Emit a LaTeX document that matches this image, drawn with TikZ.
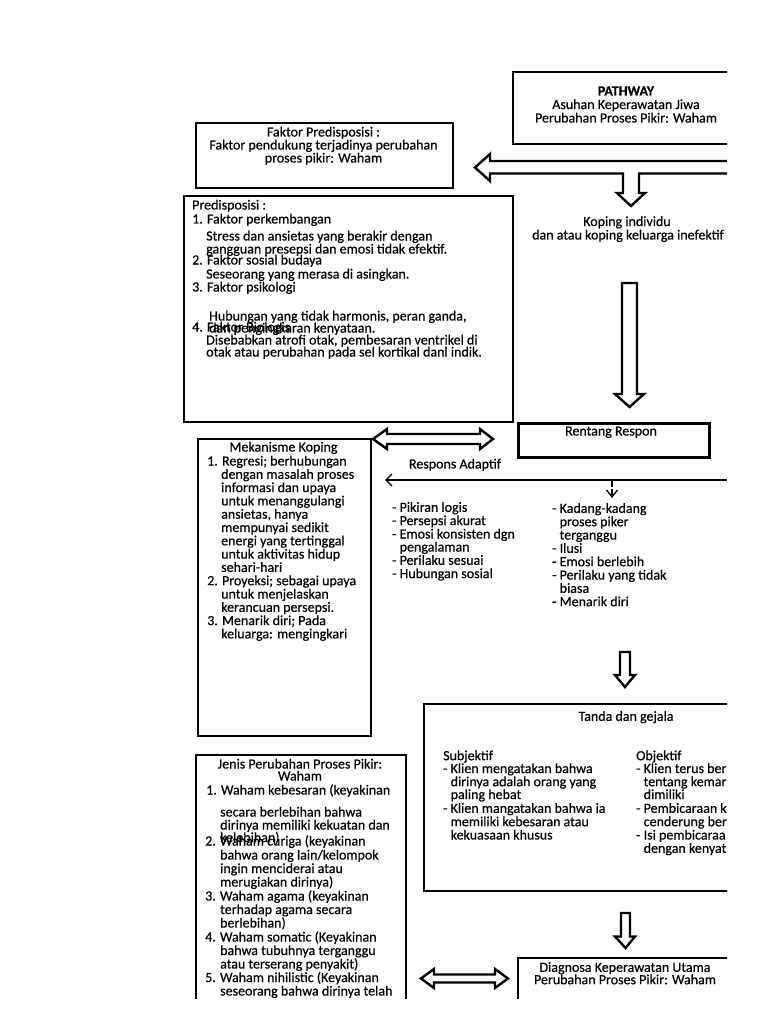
\documentclass[tikz,border=0pt]{standalone}
\usepackage{fontspec}
\setmainfont{Carlito}[RawFeature={embolden=0.5}]
\usetikzlibrary{arrows.meta}
\begin{document}
\begin{tikzpicture}[x=1pt,y=-1pt,
  txt/.style={anchor=west,inner sep=0pt,font=\fontsize{14}{16}\selectfont,text height=10pt,text depth=3pt},
  ctr/.style={anchor=center,inner sep=0pt,font=\fontsize{14}{16}\selectfont,text height=10pt,text depth=3pt},
  box/.style={draw,line width=2.2pt,anchor=north west,inner sep=0pt},
  thinbox/.style={draw,line width=1.6pt,anchor=north west,inner sep=0pt},
  blk/.style={draw,line width=2.4pt,fill=white,line join=miter},
]
\fill[white] (0,0) rectangle (768,1024);
\useasboundingbox (0,0) rectangle (768,1024);
\begin{scope}
\clip (0,0) rectangle (727,998);

% ---------- boxes ----------
\node[box,minimum width=280pt,minimum height=72pt] (pathway) at (512,71) {};
\node[box,minimum width=257pt,minimum height=65pt] (faktor) at (195,122) {};
\node[box,minimum width=329pt,minimum height=226pt] (predis) at (183,195) {};
\node[box,minimum width=173pt,minimum height=297pt] (mekan) at (197,438) {};
\node[box,line width=2.6pt,minimum width=191pt,minimum height=34pt] (rentang) at (517,422) {};
\node[thinbox,minimum width=380pt,minimum height=187pt] (tanda) at (423,703) {};
\node[box,minimum width=210pt,minimum height=260pt] (jenis) at (195,754) {};
\node[thinbox,minimum width=300pt,minimum height=100pt] (diag) at (517,957) {};

% ---------- block arrows ----------
\draw[blk] (740,161) -- (490,161) -- (490,154) -- (475,167.5) -- (490,181) -- (490,173.5)
  -- (623,173.5) -- (623,193) -- (617,193) -- (631,206) -- (645,193) -- (639,193) -- (639,173.5)
  -- (740,173.5) -- cycle;
\draw[blk] (622,283) -- (637,283) -- (637,394) -- (644,394) -- (629.5,407) -- (615,394) -- (622,394) -- cycle;
\draw[blk] (620,652) -- (630,652) -- (630,675) -- (635,675) -- (625,687) -- (615,675) -- (620,675) -- cycle;
\draw[blk] (621,913) -- (630,913) -- (630,936.5) -- (635,936.5) -- (625.5,948) -- (615,936.5) -- (621,936.5) -- cycle;
% double arrows
\draw[blk] (373,439) -- (387,429) -- (387,434) -- (480,434) -- (480,429) -- (493,439) -- (480,449) -- (480,444) -- (387,444) -- (387,449) -- cycle;
\draw[blk] (421,978.5) -- (434,969) -- (434,974.5) -- (495,974.5) -- (495,969) -- (508,978.5) -- (495,988) -- (495,982.5) -- (434,982.5) -- (434,988) -- cycle;

% thin arrows
\coordinate (rs) at (727,480);
\coordinate (re) at (385,480);
\draw[line width=1.4pt,-{Straight Barb[length=6pt,width=12pt,line width=1.4pt]}] (rs) -- (re);
\coordinate (ds) at (612,481);
\coordinate (de) at (612,498);
\draw[line width=1.3pt,dash pattern=on 6pt off 2pt,-{Straight Barb[length=7pt,width=11pt,line width=1.3pt]}] (ds) -- (de);

% ---------- texts ----------
\node[ctr,font=\fontsize{14}{16}\selectfont\bfseries] (p1) at (626,92) {PATHWAY};
\node[ctr] (p2) at (626,105.5) {Asuhan Keperawatan Jiwa};
\node[ctr] (p3) at (626,119) {Perubahan Proses Pikir: Waham};

\node[ctr] (f1) at (323.5,133) {Faktor Predisposisi :};
\node[ctr] (f2) at (323.5,146) {Faktor pendukung terjadinya perubahan};
\node[ctr] (f3) at (323.5,159) {proses pikir: Waham};

\node[ctr] (k1) at (627,222.5) {Koping individu};
\node[ctr] (k2) at (628,236) {dan atau koping keluarga inefektif};

\node[txt] (d1) at (192,206) {Predisposisi :};
\node[txt] (d2) at (192,220) {1. Faktor perkembangan};
\node[txt] (d3) at (206,237) {Stress dan ansietas yang berakir dengan};
\node[txt] (d4) at (206,250) {gangguan presepsi dan emosi tidak efektif.};
\node[txt] (d5) at (192,261) {2. Faktor sosial budaya};
\node[txt] (d6) at (206,275) {Seseorang yang merasa di asingkan.};
\node[txt] (d7) at (192,288) {3. Faktor psikologi};
\node[txt] (d8) at (209,317) {Hubungan yang tidak harmonis, peran ganda,};
\node[txt] (d9) at (209,329) {dan pengingkaran kenyataan.};
\node[txt] (d10) at (192,328) {4. Faktor Biologis};
\node[txt] (d11) at (206,341) {Disebabkan atrofi otak, pembesaran ventrikel di};
\node[txt] (d12) at (206,353) {otak atau perubahan pada sel kortikal danl indik.};

\node[ctr] (m0) at (283.5,448) {Mekanisme Koping};
\node[txt] (m1) at (207,462) {1. Regresi; berhubungan};
\node[txt] (m2) at (221,475.3) {dengan masalah proses};
\node[txt] (m3) at (221,488.6) {informasi dan upaya};
\node[txt] (m4) at (221,501.9) {untuk menanggulangi};
\node[txt] (m5) at (221,515.2) {ansietas, hanya};
\node[txt] (m6) at (221,528.5) {mempunyai sedikit};
\node[txt] (m7) at (221,541.8) {energi yang tertinggal};
\node[txt] (m8) at (221,555.1) {untuk aktivitas hidup};
\node[txt] (m9) at (221,568.4) {sehari-hari};
\node[txt] (m10) at (207,581.7) {2. Proyeksi; sebagai upaya};
\node[txt] (m11) at (221,595) {untuk menjelaskan};
\node[txt] (m12) at (221,608.3) {kerancuan persepsi.};
\node[txt] (m13) at (207,621.6) {3. Menarik diri; Pada};
\node[txt] (m14) at (221,634.9) {keluarga: mengingkari};

\node[ctr] (r0) at (611,432) {Rentang Respon};
\node[ctr] (a0) at (455,465) {Respons Adaptif};

\node[txt] (l1) at (392,508.3) {- Pikiran logis};
\node[txt] (l2) at (392,521.6) {- Persepsi akurat};
\node[txt] (l3) at (392,535) {- Emosi konsisten dgn};
\node[txt] (l4) at (399.5,548) {pengalaman};
\node[txt] (l5) at (392,561.3) {- Perilaku sesuai};
\node[txt] (l6) at (392,574.6) {- Hubungan sosial};

\node[txt] (q1) at (552,509.3) {- Kadang-kadang};
\node[txt] (q2) at (559.5,522.7) {proses piker};
\node[txt] (q3) at (559.5,536) {terganggu};
\node[txt] (q4) at (552,549.3) {- Ilusi};
\node[txt] (q5) at (552,562.7) {- Emosi berlebih};
\node[txt] (q6) at (552,576) {- Perilaku yang tidak};
\node[txt] (q7) at (559.5,589.3) {biasa};
\node[txt] (q8) at (552,602.7) {- Menarik diri};

\node[ctr] (g0) at (626,717.3) {Tanda dan gejala};
\node[txt] (s0) at (443,756.7) {Subjektif};
\node[txt] (s1) at (443,769.5) {- Klien mengatakan bahwa};
\node[txt] (s2) at (450.5,782.7) {dirinya adalah orang yang};
\node[txt] (s3) at (450.5,795.5) {paling hebat};
\node[txt] (s4) at (443,809.3) {- Klien mangatakan bahwa ia};
\node[txt] (s5) at (450.5,822.7) {memiliki kebesaran atau};
\node[txt] (s6) at (450.5,836) {kekuasaan khusus};
\node[txt] (o0) at (636,756.7) {Objektif};
\node[txt] (o1) at (636,769.5) {- Klien terus ber};
\node[txt] (o2) at (643.5,782.7) {tentang kemar};
\node[txt] (o3) at (643.5,795.5) {dimiliki};
\node[txt] (o4) at (636,809.3) {- Pembicaraan k};
\node[txt] (o5) at (643.5,822.7) {cenderung ber};
\node[txt] (o6) at (636,836) {- Isi pembicaraa};
\node[txt] (o7) at (643.5,849.3) {dengan kenyat};

\node[ctr] (j0) at (300,765) {Jenis Perubahan Proses Pikir:};
\node[ctr] (j00) at (300,777) {Waham};
\node[txt] (j1) at (206,791) {1. Waham kebesaran (keyakinan};
\node[txt] (j2) at (220,813) {secara berlebihan bahwa};
\node[txt] (j3) at (220,826) {dirinya memiliki kekuatan dan};
\node[txt] (j4) at (220,838.5) {kelebihan)};
\node[txt] (j5) at (205,842) {2. Waham curiga (keyakinan};
\node[txt] (j6) at (220,856) {bahwa orang lain/kelompok};
\node[txt] (j7) at (220,869.5) {ingin menciderai atau};
\node[txt] (j8) at (220,883) {merugiakan dirinya)};
\node[txt] (j9) at (205,897) {3. Waham agama (keyakinan};
\node[txt] (j10) at (220,910.5) {terhadap agama secara};
\node[txt] (j11) at (220,924) {berlebihan)};
\node[txt] (j12) at (205,938) {4. Waham somatic (Keyakinan};
\node[txt] (j13) at (220,951.5) {bahwa tubuhnya terganggu};
\node[txt] (j14) at (220,965) {atau terserang penyakit)};
\node[txt] (j15) at (205,978.5) {5. Waham nihilistic (Keyakinan};
\node[txt] (j16) at (220,992) {seseorang bahwa dirinya telah};

\node[ctr] (x1) at (625,968.3) {Diagnosa Keperawatan Utama};
\node[ctr] (x2) at (625,980.7) {Perubahan Proses Pikir: Waham};
\end{scope}
\end{tikzpicture}
\end{document}
